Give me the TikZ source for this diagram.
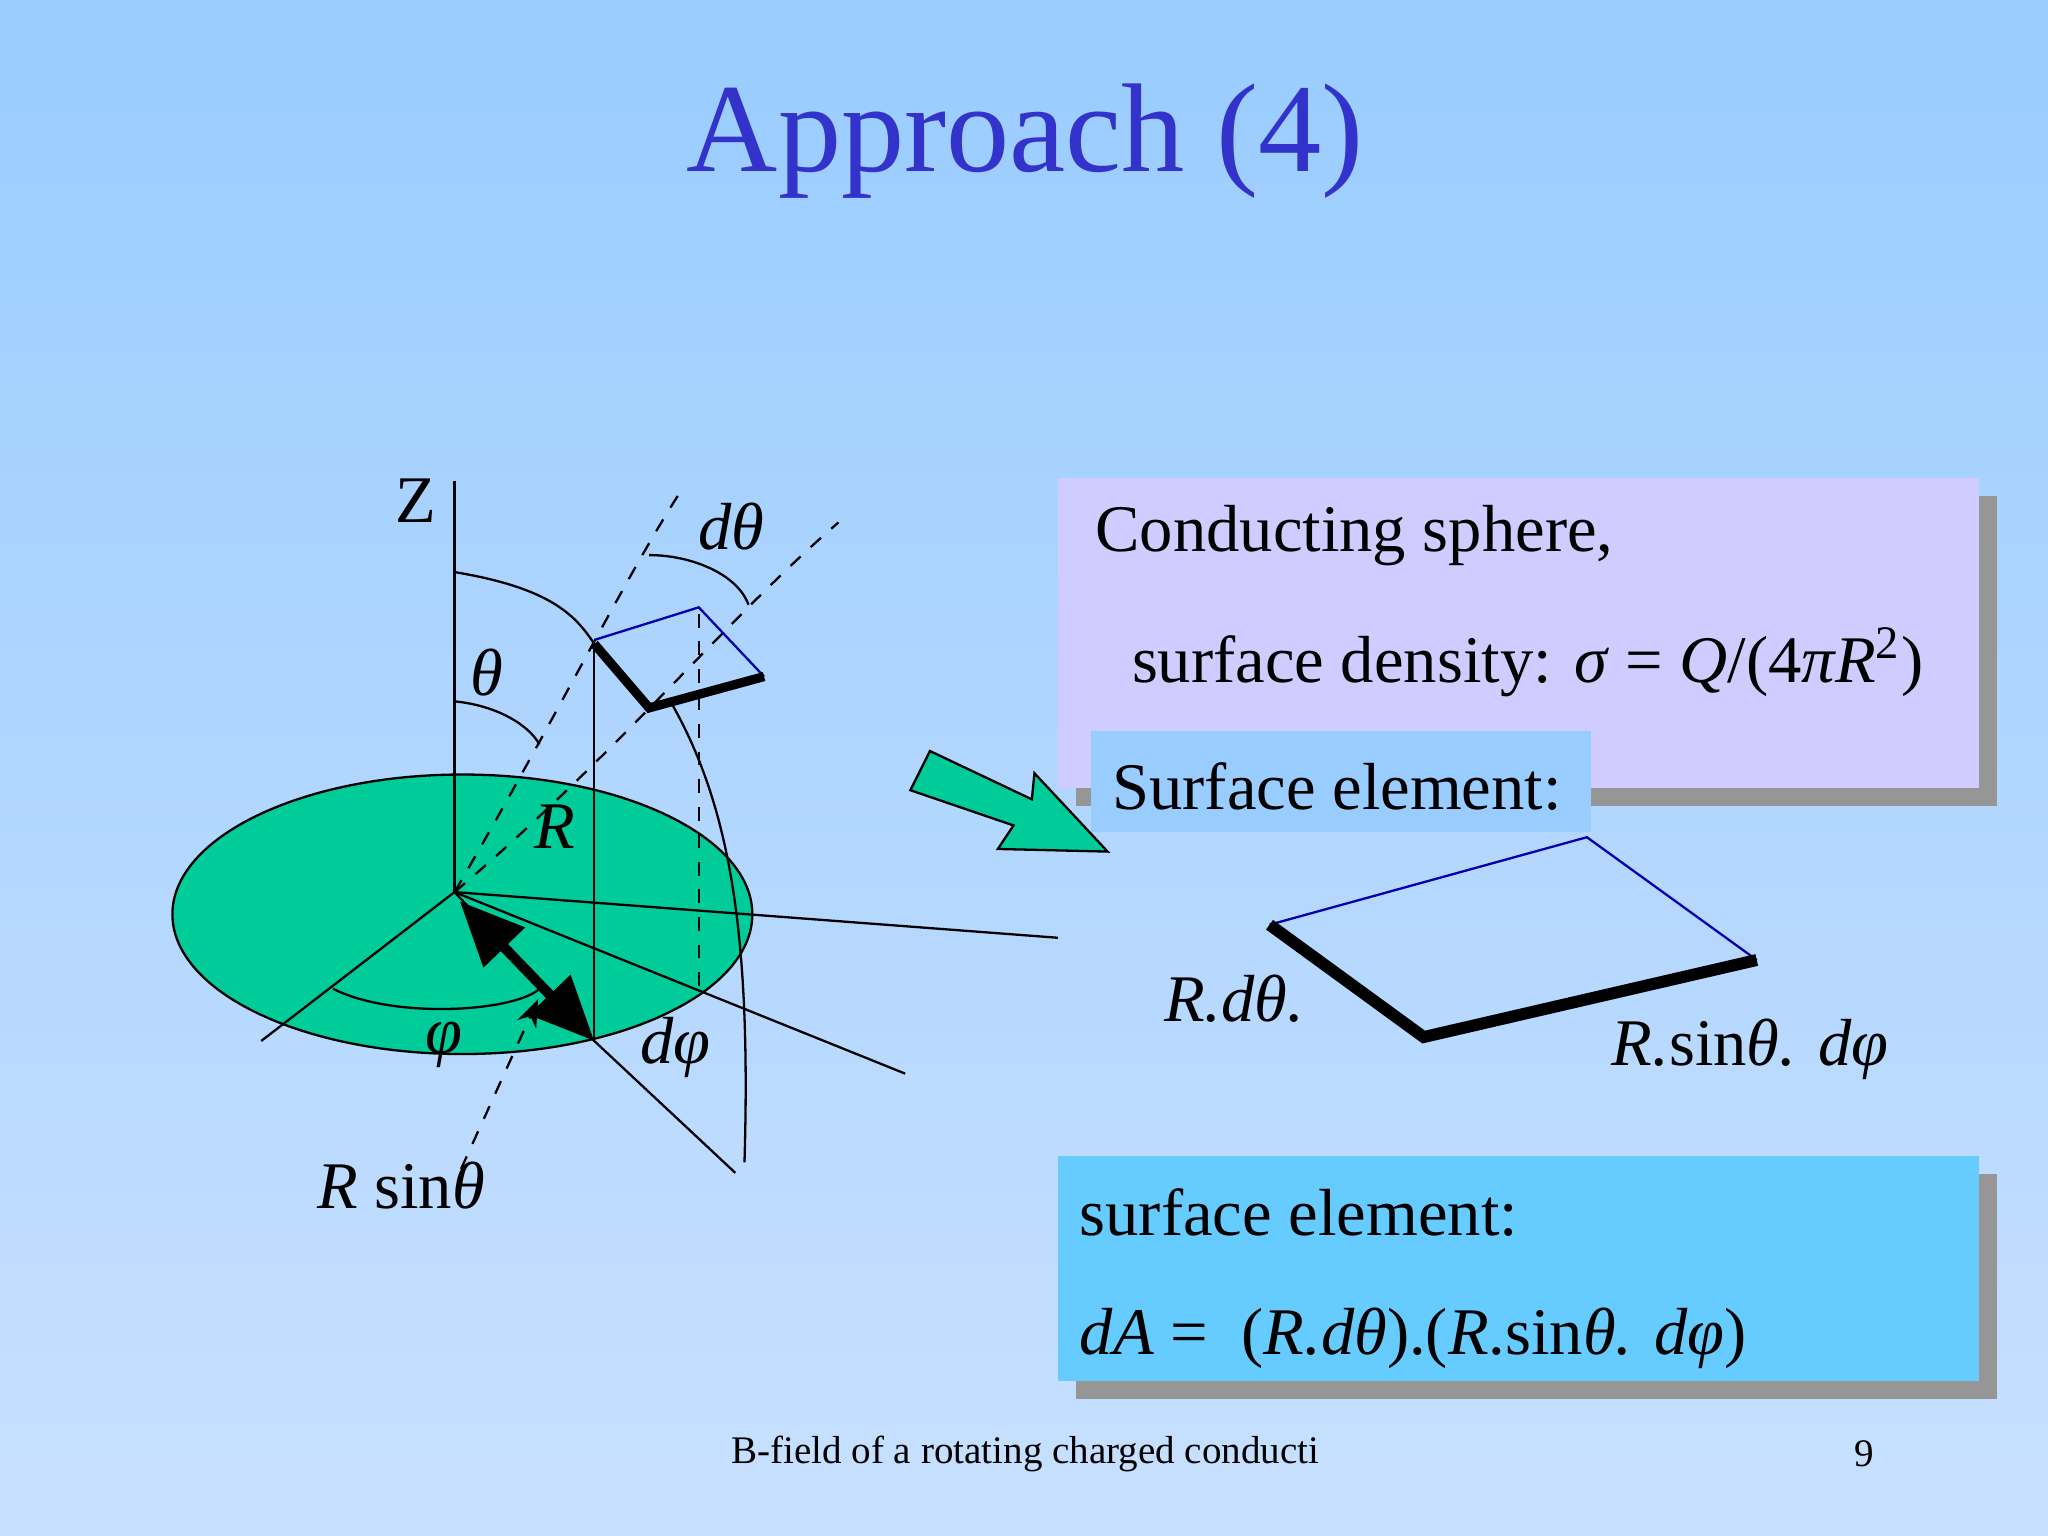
\documentclass[tikz,border=0pt]{standalone}
\usepackage{fontspec}
\setmainfont{Liberation Serif}
\usetikzlibrary{arrows.meta}
\definecolor{bgtop}{RGB}{153,204,255}
\definecolor{bgbot}{RGB}{200,224,255}
\definecolor{ttl}{RGB}{51,51,204}
\definecolor{lav}{RGB}{208,204,255}
\definecolor{lblue}{RGB}{153,204,255}
\definecolor{cyanbox}{RGB}{102,204,255}
\definecolor{grn}{RGB}{0,204,153}
\definecolor{shd}{RGB}{150,150,150}
\tikzset{txt/.style={anchor=west,inner sep=0pt,font=\fontsize{14.5}{17}\selectfont},
 lbl/.style={inner sep=0pt,font=\fontsize{14.5}{17}\selectfont\itshape},
 thin line/.style={line width=0.5pt},
 edge thick/.style={line width=2.6pt}}
\begin{document}
\begin{tikzpicture}[x=0.01cm,y=-0.01cm]
\shade[top color=bgtop,bottom color=bgbot] (0,0) rectangle (1568,1176);
\useasboundingbox (0,0) rectangle (1568,1176);
\node[text=ttl,font=\fontsize{27.5}{32}\selectfont] (title) at (785,108) {Approach (4)};
% box 1
\fill[shd] (824,380) rectangle (1529,617);
\fill[lav] (810,366) rectangle (1515,603);
\node[txt] (t1) at (838,410) {Conducting sphere,};
\node[txt] (t2) at (866,507) {surface density: \textit{σ} = \textit{Q}/(4\textit{πR}\textsuperscript{2})};
\fill[lblue] (835,560) rectangle (1218,637);
\node[txt] (t3) at (851,602) {Surface element:};
% green arrow
\draw[fill=grn,thin line] (697,605) -- (712,575) -- (790,612) -- (792,592) -- (848,652) -- (764,650) -- (776,632) -- cycle;
% surface element
\coordinate (p1) at (972,708);
\coordinate (p2) at (1215,641);
\coordinate (p3) at (1345,735);
\coordinate (p4) at (1090,794);
\draw[blue!70!black,thin line] (p1) -- (p2) -- (p3);
\draw[edge thick] (p1) -- (p4) -- (p3);
\node[lbl] (l1) at (945,765) {R.dθ.};
\node[lbl] (l2) at (1340,803) {R.\textup{sin}θ. dφ};
% box 2
\fill[shd] (824,899) rectangle (1529,1071);
\fill[cyanbox] (810,885) rectangle (1515,1057);
\node[txt] (t4) at (826,928) {surface element:};
\node[txt] (t5) at (826,1025) {\textit{dA} =\ \ (\textit{R.dθ}).(\textit{R}.sin\textit{θ. dφ})};
% footer
\node[font=\fontsize{8.5}{10}\selectfont] (ft) at (785,1113) {B-field of a rotating charged conducti};
\node[font=\fontsize{8.5}{10}\selectfont] (pg) at (1427,1113) {9};
% left diagram
\coordinate (O) at (348,683);
\draw[fill=grn,thin line] (354,700) ellipse [x radius=222, y radius=107];
\draw[thin line] (348,368) -- (O);
\node[font=\fontsize{14.5}{17}\selectfont] (Z) at (318,383) {Z};
\draw[thin line] (O) -- (200,797);
\draw[thin line] (O) -- (810,718);
\draw[thin line] (O) -- (693,822);
\draw[thin line] (O) -- (455,797) -- (563,898);
\draw[thin line] (455,493) -- (455,797);
\draw[thin line,dashed] (O) .. controls (420,560) and (480,440) .. (520,378);
\draw[thin line,dashed] (O) .. controls (470,580) and (560,470) .. (642,400);
\draw[thin line,dashed] (535,470) -- (535,760);
\draw[thin line,dashed,-{Stealth[length=6pt]}] (353,895) -- (412,765);
\draw[thin line] (348,438) .. controls (420,450) and (440,470) .. (455,493);
\draw[thin line] (348,537) .. controls (380,540) and (405,555) .. (413,570);
\draw[thin line] (497,425) .. controls (530,425) and (565,440) .. (573,463);
\draw[thin line] (515,540) .. controls (560,620) and (575,720) .. (570,890);
\draw[thin line] (255,757) .. controls (300,780) and (390,775) .. (412,758);
\draw[blue!70!black,thin line] (455,490) -- (535,465) -- (585,518);
\draw[line width=2pt] (455,493) -- (497,542) -- (585,518);
\draw[line width=2.2pt,{Triangle[length=14pt,width=12pt]}-{Triangle[length=14pt,width=12pt]}] (352,690) -- (455,797);
\node[lbl] (th) at (373,515) {θ};
\node[lbl] (dth) at (560,403) {dθ};
\node[lbl] (R) at (425,633) {R};
\node[lbl] (ph) at (340,800) {φ};
\node[lbl] (dph) at (517,802) {dφ};
\node[lbl] (rs) at (307,908) {R \textup{sin}θ};
\end{tikzpicture}
\end{document}
